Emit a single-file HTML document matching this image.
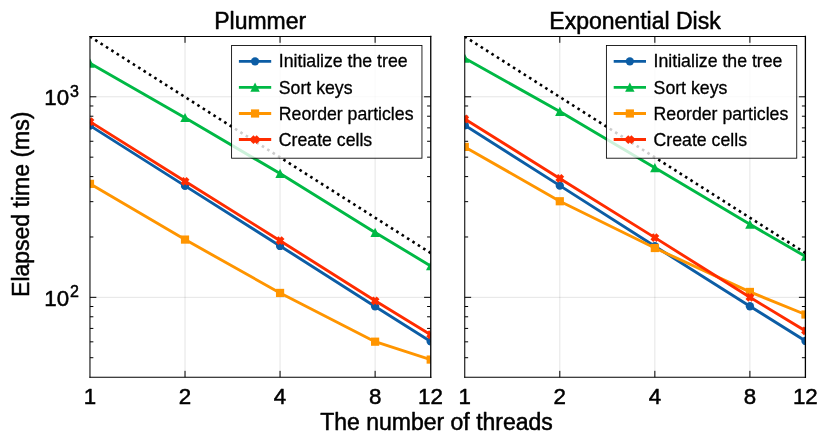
<!DOCTYPE html>
<html><head><meta charset="utf-8"><title>Elapsed time vs threads</title>
<style>
html,body{margin:0;padding:0;background:#fff;}
body{width:830px;height:447px;overflow:hidden;}
svg{display:block;}
text{font-family:"Liberation Sans",sans-serif;fill:#000;stroke:#000;stroke-width:0.5px;stroke-linejoin:round;}
.l{stroke-width:0.3px;}
.t{font-size:23.0px;}
.l{font-size:17.7px;}
.s{font-size:16px;}
.k{font-size:22.3px;}
</style></head><body>
<svg width="830" height="447" viewBox="0 0 830 447">
<rect width="830" height="447" fill="#fff"/>
<defs><clipPath id="c0"><rect x="89.97" y="36.42" width="340.53" height="340.83"/></clipPath></defs>
<path d="M185.02 36.42V377.25M280.06 36.42V377.25M375.11 36.42V377.25M89.97 297.34H430.5M89.97 96.79H430.5" stroke="#000" stroke-opacity="0.12" stroke-width="0.9" fill="none"/>
<path d="M185.02 377.25v-6.4M185.02 36.42v6.4M280.06 377.25v-6.4M280.06 36.42v6.4M375.11 377.25v-6.4M375.11 36.42v6.4M89.97 297.34h6.4M430.5 297.34h-6.4M89.97 96.79h6.4M430.5 96.79h-6.4M89.97 357.71h3.4M430.5 357.71h-3.4M89.97 341.83h3.4M430.5 341.83h-3.4M89.97 328.41h3.4M430.5 328.41h-3.4M89.97 316.78h3.4M430.5 316.78h-3.4M89.97 306.52h3.4M430.5 306.52h-3.4M89.97 236.97h3.4M430.5 236.97h-3.4M89.97 201.66h3.4M430.5 201.66h-3.4M89.97 176.6h3.4M430.5 176.6h-3.4M89.97 157.16h3.4M430.5 157.16h-3.4M89.97 141.28h3.4M430.5 141.28h-3.4M89.97 127.86h3.4M430.5 127.86h-3.4M89.97 116.23h3.4M430.5 116.23h-3.4M89.97 105.97h3.4M430.5 105.97h-3.4" stroke="#000" stroke-width="1" fill="none"/>
<g clip-path="url(#c0)">
<polyline points="89.97,125.65 185.02,185.9 280.06,245.95 375.11,306.42 430.7,341.4" fill="none" stroke="#0c5da5" stroke-width="2.9" stroke-linejoin="round"/>
<circle cx="89.97" cy="125.65" r="4.15" fill="#0c5da5"/>
<circle cx="185.02" cy="185.9" r="4.15" fill="#0c5da5"/>
<circle cx="280.06" cy="245.95" r="4.15" fill="#0c5da5"/>
<circle cx="375.11" cy="306.42" r="4.15" fill="#0c5da5"/>
<circle cx="430.7" cy="341.4" r="4.15" fill="#0c5da5"/>
<polyline points="89.97,63.24 185.02,117.7 280.06,173.6 375.11,232.51 430.7,265.95" fill="none" stroke="#00b945" stroke-width="2.9" stroke-linejoin="round"/>
<polygon points="89.97,58.44 94.67,67.64 85.27,67.64" fill="#00b945"/>
<polygon points="185.02,112.9 189.72,122.1 180.32,122.1" fill="#00b945"/>
<polygon points="280.06,168.8 284.76,178 275.36,178" fill="#00b945"/>
<polygon points="375.11,227.71 379.81,236.91 370.41,236.91" fill="#00b945"/>
<polygon points="430.7,261.15 435.4,270.35 426,270.35" fill="#00b945"/>
<polyline points="89.97,183.86 185.02,239.58 280.06,292.93 375.11,341.69 430.7,359.56" fill="none" stroke="#ff9500" stroke-width="2.9" stroke-linejoin="round"/>
<rect x="85.87" y="179.76" width="8.2" height="8.2" fill="#ff9500"/>
<rect x="180.92" y="235.48" width="8.2" height="8.2" fill="#ff9500"/>
<rect x="275.96" y="288.83" width="8.2" height="8.2" fill="#ff9500"/>
<rect x="371.01" y="337.59" width="8.2" height="8.2" fill="#ff9500"/>
<rect x="426.6" y="355.46" width="8.2" height="8.2" fill="#ff9500"/>
<polyline points="89.97,121.62 185.02,181.3 280.06,240.66 375.11,300.81 430.7,334.73" fill="none" stroke="#ff2c00" stroke-width="2.9" stroke-linejoin="round"/>
<g transform="translate(89.97,121.62) rotate(45)" fill="#ff2c00"><rect x="-4.25" y="-2.0" width="8.5" height="4.0"/><rect x="-2.0" y="-4.25" width="4.0" height="8.5"/></g>
<g transform="translate(185.02,181.3) rotate(45)" fill="#ff2c00"><rect x="-4.25" y="-2.0" width="8.5" height="4.0"/><rect x="-2.0" y="-4.25" width="4.0" height="8.5"/></g>
<g transform="translate(280.06,240.66) rotate(45)" fill="#ff2c00"><rect x="-4.25" y="-2.0" width="8.5" height="4.0"/><rect x="-2.0" y="-4.25" width="4.0" height="8.5"/></g>
<g transform="translate(375.11,300.81) rotate(45)" fill="#ff2c00"><rect x="-4.25" y="-2.0" width="8.5" height="4.0"/><rect x="-2.0" y="-4.25" width="4.0" height="8.5"/></g>
<g transform="translate(430.7,334.73) rotate(45)" fill="#ff2c00"><rect x="-4.25" y="-2.0" width="8.5" height="4.0"/><rect x="-2.0" y="-4.25" width="4.0" height="8.5"/></g>
<line x1="89.97" y1="36.62" x2="430.7" y2="253.05" stroke="#000" stroke-width="2.6" stroke-dasharray="2.6 3.77" stroke-dashoffset="0.175"/>
</g>
<g stroke="#000" stroke-linecap="square" fill="none"><line x1="89.97" y1="36.42" x2="89.97" y2="377.25" stroke-width="1.05"/><line x1="89.97" y1="36.42" x2="430.75" y2="36.42" stroke-width="1.05"/><line x1="430.75" y1="36.42" x2="430.75" y2="377.25" stroke-width="1.3"/><line x1="89.97" y1="377.25" x2="430.75" y2="377.25" stroke-width="1.15"/></g>
<text class="k" x="89.97" y="403.8" text-anchor="middle">1</text>
<text class="k" x="185.02" y="403.8" text-anchor="middle">2</text>
<text class="k" x="280.06" y="403.8" text-anchor="middle">4</text>
<text class="k" x="375.11" y="403.8" text-anchor="middle">8</text>
<text class="k" x="430.5" y="403.8" text-anchor="middle">12</text>
<text class="t" x="260.24" y="28.5" text-anchor="middle">Plummer</text>
<rect x="231.6" y="45.5" width="190.35" height="112.7" fill="#fff" fill-opacity="0.8" stroke="#000" stroke-width="0.85"/>
<line x1="238.9" y1="61.35" x2="271.2" y2="61.35" stroke="#0c5da5" stroke-width="2.9"/>
<circle cx="255.05" cy="61.35" r="4.15" fill="#0c5da5"/>
<text class="l" x="278.8" y="67.45">Initialize the tree</text>
<line x1="238.9" y1="87.42" x2="271.2" y2="87.42" stroke="#00b945" stroke-width="2.9"/>
<polygon points="255.05,82.62 259.75,91.82 250.35,91.82" fill="#00b945"/>
<text class="l" x="278.8" y="93.52">Sort keys</text>
<line x1="238.9" y1="113.49" x2="271.2" y2="113.49" stroke="#ff9500" stroke-width="2.9"/>
<rect x="250.95" y="109.39" width="8.2" height="8.2" fill="#ff9500"/>
<text class="l" x="278.8" y="119.59">Reorder particles</text>
<line x1="238.9" y1="139.56" x2="271.2" y2="139.56" stroke="#ff2c00" stroke-width="2.9"/>
<g transform="translate(255.05,139.56) rotate(45)" fill="#ff2c00"><rect x="-4.25" y="-2.0" width="8.5" height="4.0"/><rect x="-2.0" y="-4.25" width="4.0" height="8.5"/></g>
<text class="l" x="278.8" y="145.66">Create cells</text>
<defs><clipPath id="c1"><rect x="464.75" y="36.42" width="340.55" height="340.83"/></clipPath></defs>
<path d="M559.8 36.42V377.25M654.85 36.42V377.25M749.9 36.42V377.25M464.75 297.34H805.3M464.75 96.79H805.3" stroke="#000" stroke-opacity="0.12" stroke-width="0.9" fill="none"/>
<path d="M559.8 377.25v-6.4M559.8 36.42v6.4M654.85 377.25v-6.4M654.85 36.42v6.4M749.9 377.25v-6.4M749.9 36.42v6.4M464.75 297.34h6.4M805.3 297.34h-6.4M464.75 96.79h6.4M805.3 96.79h-6.4M464.75 357.71h3.4M805.3 357.71h-3.4M464.75 341.83h3.4M805.3 341.83h-3.4M464.75 328.41h3.4M805.3 328.41h-3.4M464.75 316.78h3.4M805.3 316.78h-3.4M464.75 306.52h3.4M805.3 306.52h-3.4M464.75 236.97h3.4M805.3 236.97h-3.4M464.75 201.66h3.4M805.3 201.66h-3.4M464.75 176.6h3.4M805.3 176.6h-3.4M464.75 157.16h3.4M805.3 157.16h-3.4M464.75 141.28h3.4M805.3 141.28h-3.4M464.75 127.86h3.4M805.3 127.86h-3.4M464.75 116.23h3.4M805.3 116.23h-3.4M464.75 105.97h3.4M805.3 105.97h-3.4" stroke="#000" stroke-width="1" fill="none"/>
<g clip-path="url(#c1)">
<polyline points="464.75,125.28 559.8,185.63 654.85,246.24 749.9,306.23 805.5,340.97" fill="none" stroke="#0c5da5" stroke-width="2.9" stroke-linejoin="round"/>
<circle cx="464.75" cy="125.28" r="4.15" fill="#0c5da5"/>
<circle cx="559.8" cy="185.63" r="4.15" fill="#0c5da5"/>
<circle cx="654.85" cy="246.24" r="4.15" fill="#0c5da5"/>
<circle cx="749.9" cy="306.23" r="4.15" fill="#0c5da5"/>
<circle cx="805.5" cy="340.97" r="4.15" fill="#0c5da5"/>
<polyline points="464.75,58.28 559.8,111.56 654.85,167.8 749.9,224.31 805.5,256.46" fill="none" stroke="#00b945" stroke-width="2.9" stroke-linejoin="round"/>
<polygon points="464.75,53.48 469.45,62.68 460.05,62.68" fill="#00b945"/>
<polygon points="559.8,106.76 564.5,115.96 555.1,115.96" fill="#00b945"/>
<polygon points="654.85,163 659.55,172.2 650.15,172.2" fill="#00b945"/>
<polygon points="749.9,219.51 754.6,228.71 745.2,228.71" fill="#00b945"/>
<polygon points="805.5,251.66 810.2,260.86 800.8,260.86" fill="#00b945"/>
<polyline points="464.75,146.91 559.8,201.25 654.85,248.01 749.9,291.94 805.5,314.52" fill="none" stroke="#ff9500" stroke-width="2.9" stroke-linejoin="round"/>
<rect x="460.65" y="142.81" width="8.2" height="8.2" fill="#ff9500"/>
<rect x="555.7" y="197.15" width="8.2" height="8.2" fill="#ff9500"/>
<rect x="650.75" y="243.91" width="8.2" height="8.2" fill="#ff9500"/>
<rect x="745.8" y="287.84" width="8.2" height="8.2" fill="#ff9500"/>
<rect x="801.4" y="310.42" width="8.2" height="8.2" fill="#ff9500"/>
<polyline points="464.75,118.99 559.8,178.43 654.85,237.63 749.9,297.34 805.5,330.93" fill="none" stroke="#ff2c00" stroke-width="2.9" stroke-linejoin="round"/>
<g transform="translate(464.75,118.99) rotate(45)" fill="#ff2c00"><rect x="-4.25" y="-2.0" width="8.5" height="4.0"/><rect x="-2.0" y="-4.25" width="4.0" height="8.5"/></g>
<g transform="translate(559.8,178.43) rotate(45)" fill="#ff2c00"><rect x="-4.25" y="-2.0" width="8.5" height="4.0"/><rect x="-2.0" y="-4.25" width="4.0" height="8.5"/></g>
<g transform="translate(654.85,237.63) rotate(45)" fill="#ff2c00"><rect x="-4.25" y="-2.0" width="8.5" height="4.0"/><rect x="-2.0" y="-4.25" width="4.0" height="8.5"/></g>
<g transform="translate(749.9,297.34) rotate(45)" fill="#ff2c00"><rect x="-4.25" y="-2.0" width="8.5" height="4.0"/><rect x="-2.0" y="-4.25" width="4.0" height="8.5"/></g>
<g transform="translate(805.5,330.93) rotate(45)" fill="#ff2c00"><rect x="-4.25" y="-2.0" width="8.5" height="4.0"/><rect x="-2.0" y="-4.25" width="4.0" height="8.5"/></g>
<line x1="464.75" y1="36.62" x2="805.5" y2="253.05" stroke="#000" stroke-width="2.6" stroke-dasharray="2.6 3.77" stroke-dashoffset="0.175"/>
</g>
<g stroke="#000" stroke-linecap="square" fill="none"><line x1="464.75" y1="36.42" x2="464.75" y2="377.25" stroke-width="1.05"/><line x1="464.75" y1="36.42" x2="805.4" y2="36.42" stroke-width="1.05"/><line x1="805.4" y1="36.42" x2="805.4" y2="377.25" stroke-width="1.3"/><line x1="464.75" y1="377.25" x2="805.4" y2="377.25" stroke-width="1.15"/></g>
<text class="k" x="464.75" y="403.8" text-anchor="middle">1</text>
<text class="k" x="559.8" y="403.8" text-anchor="middle">2</text>
<text class="k" x="654.85" y="403.8" text-anchor="middle">4</text>
<text class="k" x="749.9" y="403.8" text-anchor="middle">8</text>
<text class="k" x="805.3" y="403.8" text-anchor="middle">12</text>
<text class="t" x="635.02" y="28.5" text-anchor="middle">Exponential Disk</text>
<rect x="606.4" y="45.5" width="190.35" height="112.7" fill="#fff" fill-opacity="0.8" stroke="#000" stroke-width="0.85"/>
<line x1="613.7" y1="61.35" x2="646" y2="61.35" stroke="#0c5da5" stroke-width="2.9"/>
<circle cx="629.85" cy="61.35" r="4.15" fill="#0c5da5"/>
<text class="l" x="653.6" y="67.45">Initialize the tree</text>
<line x1="613.7" y1="87.42" x2="646" y2="87.42" stroke="#00b945" stroke-width="2.9"/>
<polygon points="629.85,82.62 634.55,91.82 625.15,91.82" fill="#00b945"/>
<text class="l" x="653.6" y="93.52">Sort keys</text>
<line x1="613.7" y1="113.49" x2="646" y2="113.49" stroke="#ff9500" stroke-width="2.9"/>
<rect x="625.75" y="109.39" width="8.2" height="8.2" fill="#ff9500"/>
<text class="l" x="653.6" y="119.59">Reorder particles</text>
<line x1="613.7" y1="139.56" x2="646" y2="139.56" stroke="#ff2c00" stroke-width="2.9"/>
<g transform="translate(629.85,139.56) rotate(45)" fill="#ff2c00"><rect x="-4.25" y="-2.0" width="8.5" height="4.0"/><rect x="-2.0" y="-4.25" width="4.0" height="8.5"/></g>
<text class="l" x="653.6" y="145.66">Create cells</text>
<text class="k" x="44.3" y="105.29">10<tspan class="s" dx="0.8" dy="-8.5">3</tspan></text>
<text class="k" x="44.3" y="305.84">10<tspan class="s" dx="0.8" dy="-8.5">2</tspan></text>
<text class="t" transform="translate(29.0,204.3) rotate(-90)" text-anchor="middle">Elapsed time (ms)</text>
<text class="t" x="436.5" y="430.3" text-anchor="middle">The number of threads</text>
</svg></body></html>
